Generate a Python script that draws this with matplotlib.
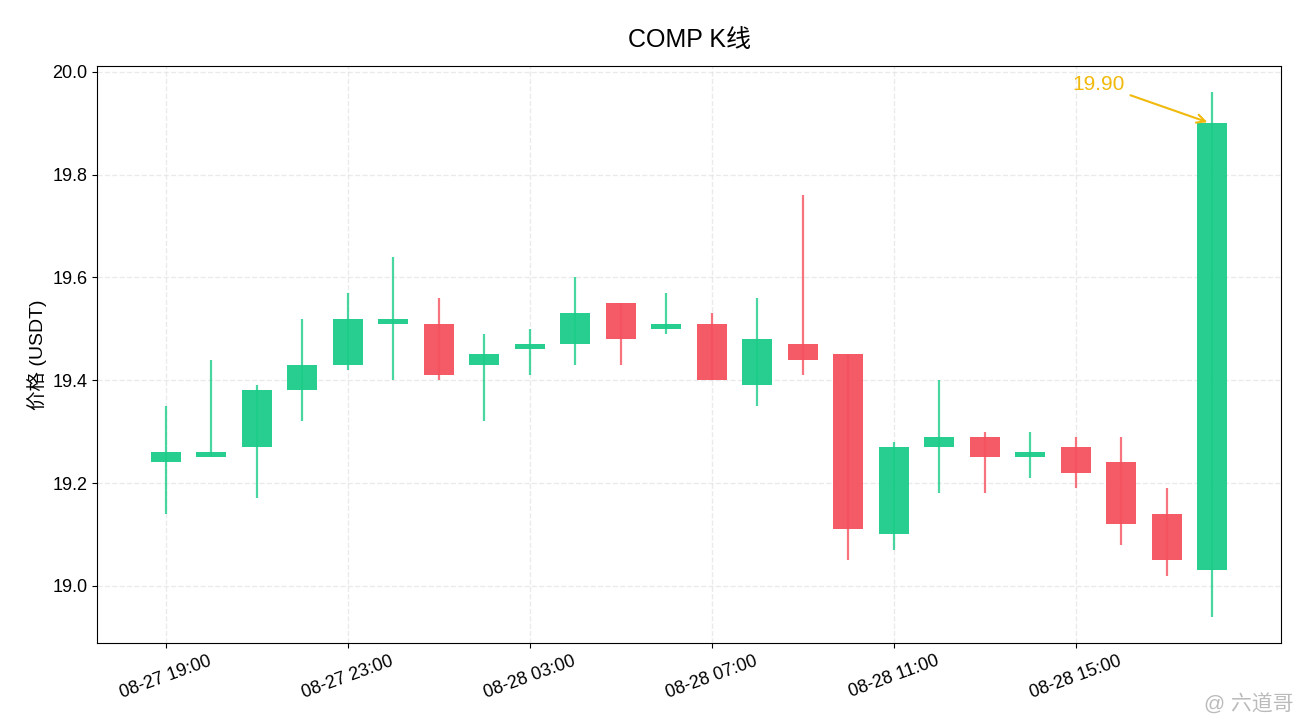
import pandas as pd
import matplotlib
matplotlib.use('Agg')
import matplotlib.pyplot as plt
import matplotlib.dates as mdates

plt.rcParams['font.family'] = ['Liberation Sans', 'Noto Sans CJK SC', 'DejaVu Sans']
plt.rcParams['axes.unicode_minus'] = False

# hourly candles, 08-27 19:00 .. 08-28 18:00
times = pd.date_range('2024-08-27 19:00', periods=24, freq='h')
opens = [19.24, 19.25, 19.27, 19.38, 19.43, 19.51, 19.51, 19.43, 19.46, 19.47, 19.55, 19.50,
         19.51, 19.39, 19.47, 19.45, 19.10, 19.27, 19.29, 19.25, 19.27, 19.24, 19.14, 19.03]
closes = [19.26, 19.26, 19.38, 19.43, 19.52, 19.52, 19.41, 19.45, 19.47, 19.53, 19.48, 19.51,
          19.40, 19.48, 19.44, 19.11, 19.27, 19.29, 19.25, 19.26, 19.22, 19.12, 19.05, 19.90]
highs = [19.35, 19.44, 19.39, 19.52, 19.57, 19.64, 19.56, 19.49, 19.50, 19.60, 19.55, 19.57,
         19.53, 19.56, 19.76, 19.45, 19.28, 19.40, 19.30, 19.30, 19.29, 19.29, 19.19, 19.96]
lows = [19.14, 19.25, 19.17, 19.32, 19.42, 19.40, 19.40, 19.32, 19.41, 19.43, 19.43, 19.49,
        19.40, 19.35, 19.41, 19.05, 19.07, 19.18, 19.18, 19.21, 19.19, 19.08, 19.02, 18.94]

up_color = '#1ccc89'
down_color = '#f5515f'

fig = plt.figure(figsize=(13, 7.28), dpi=100)
ax = fig.add_axes([0.0746, 0.1168, 0.9108, 0.7925])

x = mdates.date2num(times)
width = 0.0275  # days

for xi, o, c, h, l in zip(x, opens, closes, highs, lows):
    col = up_color if c >= o else down_color
    ax.vlines(xi, l, h, color=col, linewidth=1.6, alpha=0.8, zorder=2)
    ax.bar(xi, abs(c - o), bottom=min(o, c), width=width, color=col, alpha=0.95,
           linewidth=0, zorder=3)

ax.grid(True, linestyle='--', color='#dddddd', alpha=0.6, linewidth=1)
ax.set_axisbelow(True)

ax.set_xticks(x[::4])
ax.xaxis.set_major_formatter(mdates.DateFormatter('%m-%d %H:%M'))
plt.setp(ax.get_xticklabels(), rotation=20, ha='center', fontsize=13)
ax.tick_params(axis='y', labelsize=13)
ax.yaxis.set_major_formatter(matplotlib.ticker.FormatStrFormatter('%.1f'))

ax.set_ylabel('价格 (USDT)', fontsize=14)
ax.set_title('COMP K线', fontsize=18, pad=14)

ax.annotate(f'{closes[-1]:.2f}', xy=(x[-1] - 0.002, closes[-1]),
            xytext=(-80, 28), textcoords='offset points',
            color='#f0b90b', fontsize=15, ha='center', va='center',
            arrowprops=dict(arrowstyle='->', color='#f0b90b', lw=1.5))

fig.text(0.995, 0.018, '@ 六道哥', ha='right', va='bottom', fontsize=15,
         color='#aaaaaa', alpha=0.8)

fig.savefig('out.png', dpi=100)
